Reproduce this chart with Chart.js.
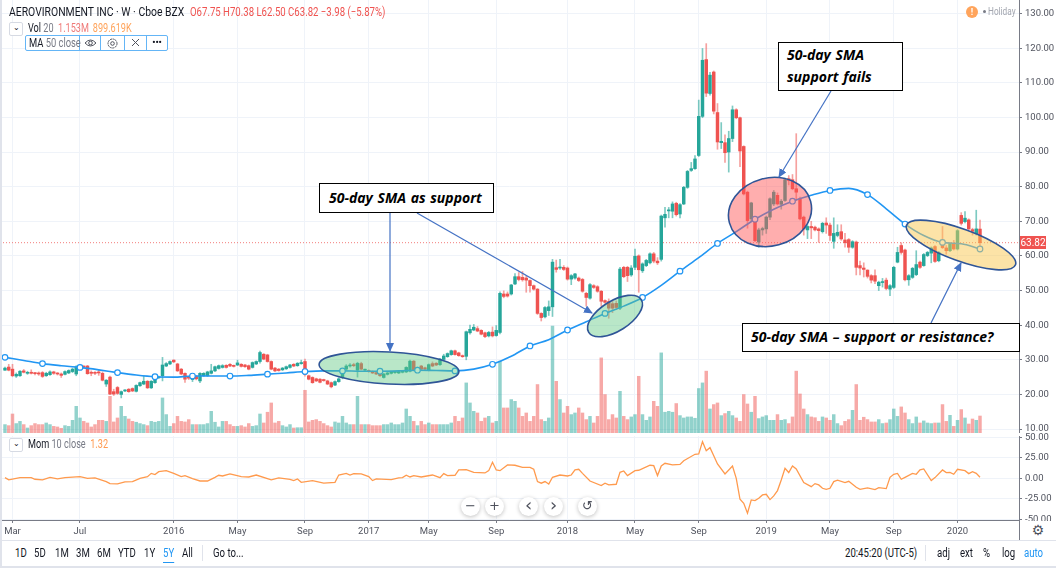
<!DOCTYPE html>
<html>
<head>
<meta charset="utf-8">
<title>AeroVironment weekly chart</title>
<script src="https://cdn.jsdelivr.net/npm/chart.js@4"></script>
<style>
  html, body { margin: 0; padding: 0; background: #fff; }
  #page { position: relative; width: 1056px; height: 568px; overflow: hidden; font-family: Roboto, sans-serif; color: #131722; }
  canvas { position: absolute; left: 0; display: block; }
  #priceChart { top: 0; }
  #momChart { top: 433px; }
  .abs { position: absolute; white-space: nowrap; }
  .squeeze { transform: scaleX(.8); transform-origin: left center; }
  .row { font-size: 12px; line-height: 14px; transform: scaleX(.76); transform-origin: left center; }
  .gray { color: #787b86; }
  .btn { position: absolute; width: 12px; height: 12px; border: 1px solid #d6dae3; border-radius: 2px; background: #fff; font-size: 8px; line-height: 9px; text-align: center; }
  #chip { left: 25px; top: 35px; height: 14px; border: 1px solid #64b5f6; border-radius: 2px; background: #fff; display: flex; font-size: 12px; line-height: 14px; }
  #chip div { border-left: 1px solid #64b5f6; width: 20px; text-align: center; }
  #chip div.name { border-left: 0; width: 53px; text-align: left; }
  #chip div.name span.inner { display: inline-block; margin-left: 3px; transform: scaleX(.78); transform-origin: left center; }
  #chip svg { margin-top: 2px; }
  .round { position: absolute; top: 497px; width: 19px; height: 19px; border-radius: 50%; background: #fff; box-shadow: 0 1px 4px rgba(0,0,0,.25); text-align: center; font-family: "DejaVu Sans", sans-serif; font-size: 13px; line-height: 18px; color: #50535e; }
  .range { top: 546px; font-size: 12px; line-height: 14px; color: #131722; transform: scaleX(.8); transform-origin: left center; }
  .note { position: absolute; box-sizing: border-box; background: #fff; border: 1.5px solid #000; color: #000; font-family: "Open Sans", sans-serif; font-weight: 700; font-style: italic; font-size: 14px; line-height: 22px; white-space: nowrap; word-spacing: 1px; }
  #overlay { position: absolute; left: 0; top: 0; }
</style>
</head>
<body>
<div id="page">
  <canvas id="priceChart" width="1056" height="433"></canvas>
  <canvas id="momChart" width="1056" height="107"></canvas>

  <svg id="overlay" width="1056" height="433">
    <defs>
      <marker id="head" markerWidth="10" markerHeight="10" refX="8" refY="4" orient="auto" markerUnits="userSpaceOnUse">
        <path d="M0,0 L9,4 L0,8 Z" fill="#4472c4"></path>
      </marker>
    </defs>
    <g stroke="#2f5597" stroke-width="1.6">
      <ellipse cx="389" cy="368" rx="70" ry="16" transform="rotate(3 389 368)" fill="rgba(95,200,130,.44)"></ellipse>
      <ellipse cx="615" cy="316" rx="31" ry="15" transform="rotate(-32 615 316)" fill="rgba(95,200,130,.44)"></ellipse>
      <ellipse cx="770" cy="212" rx="42" ry="34" transform="rotate(-15 770 212)" fill="rgba(255,85,85,.48)"></ellipse>
      <ellipse cx="961" cy="245" rx="58" ry="16" transform="rotate(20 961 245)" fill="rgba(250,200,80,.5)"></ellipse>
    </g>
    <g stroke="#4472c4" stroke-width="1.2">
      <line x1="390" y1="213" x2="390" y2="351" marker-end="url(#head)"></line>
      <line x1="417" y1="213" x2="592" y2="313" marker-end="url(#head)"></line>
      <line x1="831" y1="91" x2="779" y2="177" marker-end="url(#head)"></line>
      <line x1="931" y1="323" x2="961" y2="263" marker-end="url(#head)"></line>
    </g>
  </svg>

  <div class="note" style="left:319px;top:183px;width:175px;height:30px;padding:3px 0 0 9px;">50-day SMA as support</div>
  <div class="note" style="left:778px;top:42px;width:125px;height:49px;padding:1px 0 0 8px;">50-day SMA<br>support fails</div>
  <div class="note" style="left:742px;top:323px;width:278px;height:29px;padding:2px 0 0 8px;">50-day SMA – support or resistance?</div>

  <div class="abs squeeze" style="left:9px;top:3px;font-size:13px;line-height:17px;">AEROVIRONMENT INC · W · Cboe BZX</div>
  <div class="abs squeeze" style="left:190px;top:4px;font-size:12px;line-height:16px;color:#ef5350;">O67.75 H70.38 L62.50 C63.82 −3.98 (−5.87%)</div>
  <div class="btn" style="left:9px;top:22px;">⌄</div>
  <div class="abs row" style="left:28px;top:21px;">Vol <span class="gray">20</span> <span style="color:#ef7a78;margin-left:3px">1.153M</span> <span style="color:#ffa45c;margin-left:2px">899.619K</span></div>
  <div class="abs" id="chip">
    <div class="name"><span class="inner">MA <span class="gray">50 close</span></span></div>
    <div><svg width="13" height="10" viewBox="0 0 13 10"><path d="M1,5 Q6.5,-1 12,5 Q6.5,11 1,5 Z" fill="none" stroke="#50535e"></path><circle cx="6.5" cy="5" r="1.8" fill="none" stroke="#50535e"></circle></svg></div>
    <div style="width:23px;"><svg width="11" height="11" viewBox="0 0 11 11"><circle cx="5.5" cy="5.5" r="4.5" fill="none" stroke="#50535e" stroke-dasharray="2 .6"></circle><circle cx="5.5" cy="5.5" r="1.8" fill="none" stroke="#50535e"></circle></svg></div>
    <div style="width:21px;"><svg width="9" height="9" viewBox="0 0 9 9"><path d="M1,1 L8,8 M8,1 L1,8" stroke="#50535e"></path></svg></div>
    <div style="font-weight:700;font-size:9px;letter-spacing:0;line-height:13px;">•••</div>
  </div>

  <div class="abs" style="left:966px;top:6px;width:12px;height:12px;border-radius:50%;background:#ffa45c;color:#fff;font-size:9px;line-height:12px;text-align:center;font-weight:700;">!</div>
  <div class="abs" style="left:983px;top:10px;width:3px;height:3px;border-radius:50%;background:#787b86;"></div>
  <div class="abs" style="left:988px;top:5px;font-size:11px;line-height:14px;color:#a3a6af;transform:scaleX(.75);transform-origin:left center;">Holiday</div>

  <div class="abs" style="left:1020px;top:236px;width:26px;height:13px;background:#ef5350;color:#fff;font-size:10px;line-height:13px;text-align:center;">63.82</div>

  <div class="btn" style="left:9px;top:438px;">⌄</div>
  <div class="abs row" style="left:28px;top:437px;">Mom <span class="gray">10 close</span> <span style="color:#ff9a50;margin-left:3px">1.32</span></div>

  <div class="round" style="left:461px;">−</div>
  <div class="round" style="left:485px;">+</div>
  <div class="round" style="left:519px;font-size:18px;line-height:16px;">‹</div>
  <div class="round" style="left:544px;font-size:18px;line-height:16px;">›</div>
  <div class="round" style="left:578px;">↺</div>

  <div class="abs" style="left:1020px;top:521px;width:36px;height:19px;background:#fff;text-align:center;font-family:'DejaVu Sans',sans-serif;font-size:14px;line-height:19px;color:#50535e;">⚙</div>
  <div class="abs" style="left:1019px;top:520px;width:1px;height:20px;background:#787b86;"></div>
  <div class="abs" style="left:0;top:540px;width:1056px;height:1px;background:#e0e3eb;"></div>
  <div class="abs" style="left:0;top:566px;width:1056px;height:2px;background:#e0e3eb;"></div>
  <div class="abs" style="left:0;top:0;width:2px;height:568px;background:#e0e3eb;"></div>

  <div class="abs range" style="left:15px;">1D</div>
  <div class="abs range" style="left:34px;">5D</div>
  <div class="abs range" style="left:55px;">1M</div>
  <div class="abs range" style="left:76px;">3M</div>
  <div class="abs range" style="left:97px;">6M</div>
  <div class="abs range" style="left:118px;">YTD</div>
  <div class="abs range" style="left:144px;">1Y</div>
  <div class="abs range" style="left:163px;color:#2196f3;border-bottom:1px solid #2196f3;padding-bottom:2px;">5Y</div>
  <div class="abs range" style="left:182px;">All</div>
  <div class="abs" style="left:202px;top:545px;width:1px;height:16px;background:#e0e3eb;"></div>
  <div class="abs range" style="left:213px;">Go to...</div>
  <div class="abs range" style="left:845px;">20:45:20 (UTC-5)</div>
  <div class="abs" style="left:925px;top:545px;width:1px;height:16px;background:#e0e3eb;"></div>
  <div class="abs range" style="left:937px;">adj</div>
  <div class="abs range" style="left:960px;">ext</div>
  <div class="abs range" style="left:983px;">%</div>
  <div class="abs range" style="left:1002px;">log</div>
  <div class="abs range" style="left:1024px;color:#2196f3;">auto</div>
</div>

<script>
// Weekly bars, ten to a row
const opens = [
  27.0,27.9,27.3,25.3,25.4,26.8,26.1,26.4,26.1,26.2,
  26.3,25.4,25.7,26.5,26.0,25.9,25.8,26.2,26.6,25.9,
  27.5,28.0,28.2,26.4,26.2,26.3,26.1,23.0,25.0,20.8,
  22.0,20.0,21.0,21.5,21.7,20.9,22.5,23.0,23.8,21.9,
  23.4,24.8,25.4,28.2,28.8,29.9,28.8,27.3,26.1,24.9,
  24.3,25.2,23.9,25.4,25.4,26.1,26.8,27.5,27.8,28.4,
  28.7,28.3,28.5,28.7,28.5,28.3,27.8,28.8,29.5,31.6,
  31.4,29.5,27.6,27.3,27.1,27.4,27.8,28.7,28.3,28.9,
  29.5,25.4,24.9,24.5,24.4,24.2,23.9,23.4,22.7,23.7,
  24.9,27.3,28.2,28.6,27.0,28.9,27.0,26.9,26.6,26.3,
  26.2,24.9,25.8,26.1,26.3,26.2,26.4,26.5,26.7,29.6,
  27.0,28.2,27.7,27.0,28.9,29.0,28.6,30.1,30.9,31.5,
  32.6,32.0,31.2,31.0,37.8,38.6,39.0,38.5,37.8,36.9,
  38.0,37.0,37.9,49.0,49.0,49.0,51.9,54.0,53.8,53.6,
  52.9,51.4,50.4,43.4,42.4,44.2,45.3,56.6,56.5,56.7,
  56.5,53.3,53.6,53.6,53.2,49.2,47.8,51.4,51.1,49.8,
  47.1,46.8,46.2,46.3,44.9,56.7,56.7,54.5,56.7,60.0,
  55.7,57.2,58.0,60.6,58.5,59.0,71.0,73.0,72.9,75.2,
  72.1,75.0,79.8,84.7,85.2,89.0,100.3,116.7,106.9,113.1,
  101.4,92.7,92.7,90.0,93.9,102.2,99.9,91.6,78.4,70.7,
  70.7,64.0,67.5,67.8,71.2,75.0,77.5,74.9,76.0,82.3,
  82.0,79.4,76.5,71.2,67.5,68.5,68.3,67.8,67.0,69.5,
  68.9,64.2,65.9,67.0,64.6,64.7,62.5,64.0,57.2,56.5,
  55.9,54.3,54.3,51.4,52.3,53.0,50.4,50.9,58.2,63.0,
  61.7,53.1,53.8,54.6,58.2,57.2,60.1,60.8,62.7,58.6,
  64.0,62.3,61.5,63.5,62.0,71.7,69.9,70.4,67.6,66.4,67.75
];
const closes = [
  27.6,27.0,25.4,25.8,26.7,26.4,26.3,26.1,26.0,25.9,
  25.2,26.1,26.5,26.1,25.9,25.5,26.6,26.9,27.3,28.0,
  28.2,27.9,26.0,26.1,26.1,26.2,24.1,24.1,20.1,20.1,
  20.3,20.8,21.2,20.8,21.0,22.6,23.4,23.8,21.9,23.8,
  24.8,25.0,28.5,28.9,29.5,29.4,26.8,25.9,24.4,24.7,
  25.3,24.5,26.1,26.1,26.5,26.8,28.0,28.3,28.3,27.8,
  28.2,28.1,29.1,28.1,28.0,27.3,29.2,29.5,32.1,30.2,
  29.5,27.3,26.8,26.9,27.6,28.0,28.5,28.2,29.0,29.2,
  25.8,24.4,23.4,23.9,23.5,24.0,23.0,22.2,23.7,24.5,
  26.8,28.2,28.4,28.3,29.0,27.3,27.1,26.6,26.2,25.9,
  25.4,25.9,26.2,26.4,26.5,26.6,26.6,27.8,29.6,27.0,
  27.7,27.3,27.3,28.6,28.2,28.5,30.2,31.1,31.8,32.6,
  31.5,31.2,30.9,38.1,38.8,39.4,38.3,37.4,36.7,37.9,
  36.9,38.5,49.2,48.3,48.4,51.6,54.0,53.2,53.1,53.0,
  51.4,50.4,43.4,42.2,45.1,45.3,58.2,56.1,56.7,56.1,
  53.3,54.3,54.8,52.9,49.8,48.0,51.7,50.9,49.8,46.9,
  46.6,44.9,44.9,45.1,56.2,54.0,54.3,56.5,59.9,56.0,
  57.7,58.7,60.6,58.5,58.0,71.5,72.0,73.3,75.0,71.9,
  74.8,79.8,84.4,85.2,88.0,100.3,116.5,107.0,112.2,101.8,
  92.9,93.1,89.8,93.9,102.2,99.9,90.3,77.9,70.2,75.3,
  64.4,67.5,67.9,71.2,76.5,78.4,75.0,75.8,82.0,81.8,
  79.4,78.4,70.7,67.8,68.5,68.1,67.5,67.3,69.4,68.9,
  65.9,66.5,66.8,64.9,63.8,62.5,64.1,56.7,56.5,56.1,
  54.1,53.0,52.7,52.4,52.4,50.6,51.4,56.7,61.0,61.0,
  53.1,54.3,56.4,57.5,56.7,60.4,61.0,62.3,58.4,61.0,
  62.4,61.5,63.5,62.0,67.3,69.4,70.9,67.8,67.1,67.8,63.82
];
const highs = [
  27.9,28.7,28.7,26.2,26.9,27.2,26.7,27.1,26.4,26.5,
  26.6,26.4,26.8,26.7,26.3,26.2,26.8,27.1,27.6,28.3,
  28.6,28.3,28.4,26.8,26.6,27.0,26.5,24.3,25.3,21.5,
  22.3,21.0,21.4,21.7,21.9,22.8,23.6,25.3,24.0,24.0,
  25.0,25.3,30.7,29.2,29.7,30.0,29.0,27.5,26.2,25.2,
  25.6,25.5,26.3,26.3,26.7,28.7,28.2,28.5,28.6,28.6,
  28.9,28.5,29.9,28.9,28.7,28.5,29.4,29.7,32.5,31.8,
  31.6,29.7,27.8,27.5,27.8,28.2,28.7,28.9,29.2,29.9,
  30.2,25.6,25.1,24.7,24.6,24.4,24.1,23.6,23.9,24.8,
  27.0,28.6,28.9,29.0,29.3,29.3,27.3,27.1,26.8,26.5,
  26.4,26.1,26.4,26.6,26.7,26.8,26.8,28.0,29.9,29.8,
  27.9,28.4,27.9,28.8,29.4,29.2,30.4,31.6,32.0,32.8,
  32.8,32.2,31.4,38.3,40.0,40.2,39.6,38.7,38.0,38.2,
  39.5,39.9,49.6,49.9,49.6,51.8,54.9,55.2,55.5,54.2,
  53.1,51.6,50.6,43.6,45.4,47.0,59.0,58.8,59.0,57.2,
  56.8,54.6,55.0,53.9,53.5,49.5,52.0,51.7,51.4,50.0,
  47.3,47.6,46.9,47.0,56.7,57.0,57.0,57.2,62.0,60.3,
  58.0,59.0,60.9,61.0,59.5,71.8,74.0,74.0,75.6,75.5,
  75.1,80.1,84.7,87.0,89.0,105.0,119.9,121.3,113.0,113.4,
  104.0,98.5,95.0,96.0,103.3,102.5,100.1,91.8,78.7,75.5,
  71.0,68.0,68.3,71.5,76.8,78.9,78.2,76.3,82.5,83.2,
  83.5,95.3,77.0,71.5,69.0,70.0,68.6,68.1,69.7,71.0,
  69.5,71.0,69.0,69.0,66.5,65.0,64.4,64.3,58.5,58.0,
  56.0,54.6,56.0,52.7,53.5,53.6,51.7,57.0,62.5,63.8,
  62.0,54.6,56.7,61.5,58.5,60.7,61.3,62.6,63.0,61.3,
  68.5,63.0,63.8,64.5,67.6,72.5,72.8,70.7,68.0,73.2,70.38
];
const lows = [
  26.9,26.8,25.1,24.9,25.2,26.2,25.8,25.9,25.6,25.5,
  24.9,25.2,25.5,25.8,25.6,24.9,25.6,26.0,26.3,25.4,
  27.2,27.6,25.8,25.4,25.7,25.5,23.9,22.3,19.9,19.7,
  20.0,19.0,20.8,20.6,20.8,20.7,22.3,22.8,21.7,21.7,
  23.2,24.6,23.9,28.0,28.6,29.2,26.6,25.7,23.5,24.3,
  23.7,24.2,23.4,25.2,25.2,25.9,26.6,27.3,27.6,27.6,
  28.0,27.9,28.3,27.9,27.8,27.1,27.6,28.6,29.0,30.0,
  29.3,27.1,26.6,26.7,26.9,27.2,27.6,28.0,28.1,28.7,
  25.3,24.2,23.2,23.7,23.3,23.8,22.8,21.9,22.5,23.5,
  24.5,27.1,27.9,28.0,25.0,27.1,26.8,26.4,26.0,25.7,
  25.2,24.7,25.6,25.9,26.1,26.0,26.2,26.3,26.5,26.8,
  26.8,27.1,27.1,26.8,28.0,28.3,28.4,29.9,30.7,31.3,
  31.3,31.0,30.7,30.0,37.4,38.4,38.1,37.2,36.4,36.6,
  36.6,36.8,37.5,47.9,48.1,48.7,51.7,52.8,52.7,49.5,
  49.5,50.1,43.1,41.2,42.1,42.8,42.5,55.3,56.1,55.8,
  53.0,51.7,53.3,52.6,49.5,45.5,47.5,50.6,49.5,45.5,
  46.3,42.0,43.6,44.5,44.5,53.7,52.6,54.1,56.0,49.5,
  55.2,56.9,57.7,58.0,57.5,58.5,68.3,71.0,71.0,71.5,
  71.0,74.8,79.5,84.4,85.0,88.7,99.9,106.0,106.4,101.0,
  90.8,91.0,87.0,84.2,93.0,99.6,85.8,77.6,68.0,70.0,
  64.1,62.5,66.0,66.5,70.5,74.5,74.7,73.5,75.7,80.5,
  79.1,76.0,70.4,66.0,65.0,65.0,67.2,63.9,66.6,66.5,
  64.5,62.2,65.5,64.5,62.5,61.0,62.2,54.5,54.5,53.9,
  53.6,52.2,52.0,50.0,51.0,50.2,48.5,50.6,58.0,60.5,
  52.8,51.5,53.5,54.3,56.4,57.0,59.8,58.0,58.1,58.3,
  62.1,60.5,61.2,61.7,61.7,68.9,69.5,67.5,66.0,66.0,62.50
];
// Volume in millions of shares
const volumes = [
  .57,.50,1.29,.64,.79,.57,.34,.50,.64,.57,
  .57,.68,.57,.45,.41,.32,.50,.45,.86,1.81,
  1.02,.79,.68,.41,.57,.86,.86,.79,2.49,.75,
  1.02,1.81,1.13,.95,.79,.73,.64,.57,.50,.79,
  .73,.79,2.38,1.25,.45,.64,1.13,.79,.75,.91,
  .57,.57,.57,.57,.64,1.47,.73,.41,.79,.79,
  .57,.45,.45,.50,.41,.64,.45,.50,1.29,.68,
  1.41,2.04,.68,.79,.50,.41,.57,.34,.36,.36,
  2.9,.75,.86,.91,.79,.64,.50,.41,.75,.68,
  1.13,.68,.57,.57,2.49,.57,.57,.57,.50,.50,
  .50,.57,.57,.68,.57,.57,.68,1.63,1.13,.79,
  .50,.79,.57,.68,.57,.57,.57,.57,.57,.68,
  1.13,.79,1.02,3.4,2.04,1.47,1.36,.79,1.02,1.13,
  .68,.79,4.88,1.7,1.7,2.27,2.15,1.7,1.13,1.36,
  .79,1.13,3.29,.91,.79,1.02,7.26,3.51,2.27,1.36,
  1.81,1.25,1.36,1.7,1.36,.91,1.13,.68,1.13,5.1,
  2.61,.91,1.25,1.02,2.83,1.13,.91,1.09,1.25,3.85,
  1.25,.86,1.09,2.15,1.81,5.44,1.41,1.47,1.41,2.0,
  1.18,1.02,1.09,1.09,1.0,3.02,3.4,4.2,1.63,1.93,
  2.04,1.18,1.32,1.47,1.18,1.02,.79,2.61,1.97,1.41,
  2.49,.98,1.09,1.18,.86,.86,1.25,.86,.91,.64,
  1.09,4.2,2.65,1.63,1.25,1.09,1.04,.79,1.09,1.02,
  .86,1.25,.64,.50,.79,.91,1.54,3.29,.86,1.07,
  .91,.75,.75,.91,.64,.68,.91,1.63,1.13,1.77,
  1.36,.91,.64,1.09,.68,.82,.68,.64,.68,.68,
  1.93,.79,1.2,.45,.86,1.59,1.02,.61,.95,.86,1.153
];

// 50-period average, one reading every fifth bar
const smaValues = [
  30.7,29.8,28.9,28.3,27.8,27.1,26.3,25.6,25.1,25.0,
  25.3,25.3,25.3,25.5,25.85,26.2,26.6,26.8,26.8,26.7,
  26.7,26.8,27.0,26.9,26.8,27.3,28.7,31.0,34.0,35.8,
  38.6,41.0,43.4,45.5,48.0,51.5,55.6,59.5,63.6,67.0,
  70.6,73.5,75.8,77.5,78.9,79.5,77.7,73.6,69.2,65.9,
  63.9,63.5,62.0
];
const smaStep = 5;
const smaMarkerEvery = 2;

// Momentum line: bar index and value at each bend
const momBars = [
  0,1,4,7,8,10,12,14,16,20,22,24,27,28,30,32,34,36,38,39,
  40,41,43,45,47,48,50,52,54,56,57,58,60,63,65,67,71,73,76,77,
  78,79,82,85,88,89,91,92,93,95,97,98,99,103,105,106,107,108,109,111,
  114,116,117,118,120,121,123,125,128,129,130,131,132,134,136,138,140,141,142,143,
  144,145,146,148,150,151,152,153,154,156,159,160,161,163,164,165,166,168,169,172,
  173,174,175,176,178,180,181,184,185,186,187,188,189,190,192,194,195,196,197,198,
  199,200,201,202,203,204,205,206,207,208,209,210,211,213,215,216,217,218,219,220,
  221,222,224,225,227,228,230,232,233,235,236,237,238,239,240,242,243,244,245,247,
  248,250,251,252,253,254,256,257,258,259,260
];
const momValues = [
  .8,-2,.8,.8,-1.2,-2,1.2,-.8,.8,2,0,.4,-4,-6.5,-6.9,-4.5,-4,0,2,6,
  4.5,8,9.3,6,2,3.3,-.4,-3.3,-3.3,1.2,3.7,2.8,5.3,2,1.6,4,-2,.4,-1.2,-2.8,
  -.8,-4.9,-2.8,-6,-4.9,4,6,4,5.7,5.3,2,-2.8,-.8,-1.6,.4,.8,3.7,1.6,3.3,1.6,
  4,.8,5.7,3.3,3.7,10.2,10.6,7.3,6.5,9.3,19.5,10.2,9.3,16.3,15.9,13.4,13.4,11,-4,-6,
  -4,-7,1.2,4,2.8,4,10.2,11,6,-3.3,-8.9,-6,-8.1,-7.3,7.3,8.9,3.3,9.3,9.8,15.9,
  15.4,3.3,15,18.3,16.3,17,21.5,29.3,29.7,44.7,33.7,37.4,27.6,17.5,5.3,15,0,-25.6,-30.5,-42.7,
  -26.4,-27.2,-24.4,-20.3,-19.5,-26,-21.5,-15,-2,12.2,7,15,11.4,-5.3,-10.2,-6.5,-8.1,-12.2,-13.4,-12.2,
  -4,-2.4,-5.3,-3.7,-11,-13.4,-11.8,-13.8,-11.4,-12.6,1.2,4.9,6,-1.2,1.2,6,4.9,10.2,11.4,-2.8,
  .8,10.2,6.9,7.3,4.9,11,9.3,5.7,8.1,6,1.32
];

// Axis ticks
const timeTickBars = [2,20,45,62,80,97,113,131,150,168,185,203,220,237,254];
const timeTickLabels = ['Mar','Jul','2016','May','Sep','2017','May','Sep','2018','May','Sep','2019','May','Sep','2020'];
const priceTicks = [10,20,30,40,50,60,70,80,90,100,110,120,130];
const momTicks = [-50,-25,0,25,50];
const lastClose = 63.82;

const COLORS = {
  up: '#26a69a',
  down: '#ef5350',
  upWick: 'rgba(38,166,154,.6)',
  downWick: 'rgba(239,83,80,.55)',
  upVol: 'rgba(38,166,154,.5)',
  downVol: 'rgba(239,83,80,.5)',
  sma: '#2196f3',
  mom: '#ff9a4d',
  grid: '#eff3f9',
  axis: '#787b86',
  text: '#50535e'
};

// 3.75 px per bar, first bar 5 px in from the left edge
const X_MIN = -1.33;
const X_MAX = 270.4;
const isUp = i => closes[i] >= opens[i];
const TICK_FONT = { family: 'Roboto, sans-serif', size: 9.5 };

// Keep the plot area flush with the canvas, the axis strip a fixed width
function fixRightAxis(scale) {
  scale.width = 37;
  scale.paddingTop = 0;
  scale.paddingBottom = 0;
  scale._margins.top = 0;
  scale._margins.bottom = 0;
}

function timeAxis(showLabels, height) {
  return {
    type: 'linear',
    min: X_MIN,
    max: X_MAX,
    offset: false,
    afterBuildTicks: s => { s.ticks = timeTickBars.map(v => ({ value: v })); },
    afterFit: s => {
      s.height = height;
      s.paddingLeft = 0;
      s.paddingRight = 0;
      s._margins.left = 0;
      s._margins.right = 0;
    },
    border: { color: COLORS.axis, width: 1 },
    grid: { offset: false, color: COLORS.grid, drawTicks: showLabels, tickLength: 3, tickColor: COLORS.axis },
    ticks: {
      display: showLabels,
      autoSkip: false,
      maxRotation: 0,
      padding: 3,
      color: COLORS.text,
      font: TICK_FONT,
      callback: v => timeTickLabels[timeTickBars.indexOf(v)]
    }
  };
}

new Chart(document.getElementById('priceChart'), {
  data: {
    datasets: [
      {
        type: 'line',
        label: 'Last close',
        data: [{ x: X_MIN, y: lastClose }, { x: X_MAX, y: lastClose }],
        borderColor: 'rgba(239,83,80,.75)',
        borderWidth: 1,
        borderDash: [1, 2],
        pointRadius: 0,
        yAxisID: 'y',
        order: 4
      },
      {
        type: 'line',
        label: 'MA 50',
        data: smaValues.map((v, i) => ({ x: i * smaStep, y: v })),
        borderColor: COLORS.sma,
        borderWidth: 1.6,
        cubicInterpolationMode: 'monotone',
        pointRadius: ctx => (ctx.dataIndex % smaMarkerEvery === 0 ? 2.8 : 0),
        pointBackgroundColor: '#fff',
        pointBorderColor: COLORS.sma,
        pointBorderWidth: 1.2,
        yAxisID: 'y',
        order: 1
      },
      {
        type: 'bar',
        label: 'Candle body',
        data: opens.map((o, i) => ({ x: i, y: [o, closes[i]] })),
        backgroundColor: ctx => (isUp(ctx.dataIndex) ? COLORS.up : COLORS.down),
        barThickness: 2.8,
        minBarLength: 1,
        grouped: false,
        yAxisID: 'y',
        order: 2
      },
      {
        type: 'bar',
        label: 'Candle wick',
        data: highs.map((h, i) => ({ x: i, y: [lows[i], h] })),
        backgroundColor: ctx => (isUp(ctx.dataIndex) ? COLORS.upWick : COLORS.downWick),
        barThickness: 1,
        grouped: false,
        yAxisID: 'y',
        order: 3
      },
      {
        type: 'bar',
        label: 'Volume',
        data: volumes.map((v, i) => ({ x: i, y: v })),
        backgroundColor: ctx => (isUp(ctx.dataIndex) ? COLORS.upVol : COLORS.downVol),
        barThickness: 2.8,
        grouped: false,
        yAxisID: 'vol',
        order: 5
      }
    ]
  },
  options: {
    responsive: false,
    animation: false,
    events: [],
    layout: { padding: 0, autoPadding: false },
    plugins: { legend: { display: false }, tooltip: { enabled: false } },
    scales: {
      x: timeAxis(false, 0),
      y: {
        position: 'right',
        min: 8.86,
        max: 133.9,
        afterBuildTicks: s => { s.ticks = priceTicks.map(v => ({ value: v })); },
        afterFit: fixRightAxis,
        border: { color: COLORS.axis },
        grid: { color: COLORS.grid, tickColor: COLORS.axis, tickLength: 3 },
        ticks: { color: COLORS.text, font: TICK_FONT, padding: 3, callback: v => v.toFixed(2) }
      },
      vol: { display: false, min: 0, max: 29.4 }
    }
  }
});

new Chart(document.getElementById('momChart'), {
  type: 'line',
  data: {
    datasets: [{
      label: 'Mom 10',
      data: momValues.map((v, i) => ({ x: momBars[i], y: v })),
      borderColor: COLORS.mom,
      borderWidth: 1.3,
      pointRadius: 0
    }]
  },
  options: {
    responsive: false,
    animation: false,
    events: [],
    layout: { padding: { top: 3 }, autoPadding: false },
    plugins: { legend: { display: false }, tooltip: { enabled: false } },
    scales: {
      x: timeAxis(true, 20),
      y: {
        position: 'right',
        min: -50.9,
        max: 51.6,
        afterBuildTicks: s => { s.ticks = momTicks.map(v => ({ value: v })); },
        afterFit: fixRightAxis,
        border: { color: COLORS.axis },
        grid: { color: COLORS.grid, tickColor: COLORS.axis, tickLength: 3 },
        ticks: { color: COLORS.text, font: TICK_FONT, padding: 3, callback: v => v.toFixed(2) }
      }
    }
  }
});
</script>
</body>
</html>
